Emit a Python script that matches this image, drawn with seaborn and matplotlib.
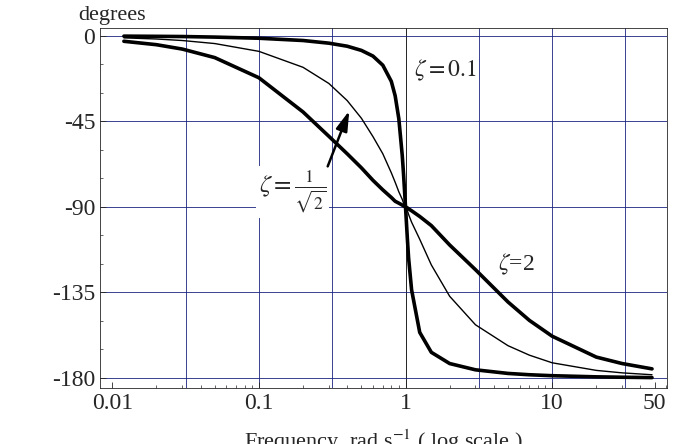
import numpy as np
import matplotlib
matplotlib.use('Agg')
import matplotlib.pyplot as plt
import seaborn as sns
import pandas as pd
from matplotlib.ticker import FixedLocator, NullFormatter

# values (phase in degrees)
freq = [0.012, 0.02, 0.03, 0.05, 0.1, 0.2, 0.3, 0.4, 0.5, 0.6, 0.7, 0.8, 0.85, 0.9, 0.95, 0.97, 1.0,
        1.03, 1.05, 1.1, 1.25, 1.5, 2, 3, 5, 7, 10, 20, 30, 48]
phase_z01 = [-0.1, -0.2, -0.3, -0.6, -1.2, -2.4, -3.8, -5.4, -7.6, -10.6, -15.4, -23.9, -31.5, -43.5, -62.9, -73, -90,
             -107, -117, -133.6, -156, -166.5, -172.4, -175.7, -177.6, -178.3, -178.8, -179.4, -179.6, -179.8]
phase_z07 = [-1, -1.6, -2.4, -4, -8.1, -16.5, -25, -34, -43.3, -53, -62, -72, -77, -82, -86, -88, -90,
             -92, -94, -98, -107, -120.5, -137, -152, -163, -168, -172, -176, -177.3, -178.3]
phase_z2 = [-2.8, -4.6, -6.9, -11.4, -22, -40, -52.8, -62, -69.4, -76, -81, -85, -87, -88, -89, -89.5, -90,
            -90.5, -91, -92, -95, -99.8, -110, -123, -140, -149.7, -158, -169, -172.4, -175.2]

sns.set_style('ticks')
plt.rcParams['font.family'] = ['Liberation Serif', 'DejaVu Serif']
plt.rcParams['mathtext.fontset'] = 'stix'

fig = plt.figure(figsize=(6.81, 4.44), dpi=100)
ax = fig.add_axes([0.147, 0.126, 0.833, 0.811])

df = pd.DataFrame({'freq': freq, 'z01': phase_z01, 'z07': phase_z07, 'z2': phase_z2})
sns.lineplot(data=df, x='freq', y='z01', color='black', lw=2.6, ax=ax)
sns.lineplot(data=df, x='freq', y='z07', color='black', lw=1.0, ax=ax)
sns.lineplot(data=df, x='freq', y='z2', color='black', lw=2.6, ax=ax)

ax.set_xscale('log')
ax.set_xlim(10 ** -2.083, 10 ** 1.786)
ax.set_ylim(-185.3, 4.2)

for e in (-1.5, -1, -0.5, 0, 0.5, 1, 1.5):
    ax.axvline(10 ** e, color='black' if e == 0 else '#1a237e', lw=0.6, zorder=0)
for gy in [0, -45, -90, -135, -180]:
    ax.axhline(gy, color='#1a237e', lw=0.6, zorder=0)

ax.set_xticks([0.01, 0.1, 1, 10, 50])
ax.set_xticklabels(['0.01', '0.1', '1', '10', '50'], fontsize=17)
ax.xaxis.set_minor_locator(FixedLocator([m * 10 ** e for e in range(-2, 2) for m in range(2, 10)]))
ax.xaxis.set_minor_formatter(NullFormatter())
ax.set_yticks([0, -45, -90, -135, -180])
ax.set_yticklabels(['0', '-45', '-90', '-135', '-180'], fontsize=17)
ax.set_yticks(np.arange(-180, 1, 15), minor=True)
ax.tick_params(direction='in', length=4, width=0.6)
ax.tick_params(which='minor', direction='in', length=2, width=0.5)
ax.set_xlabel(r'Frequency, rad s$^{-1}$ ( log scale )', fontsize=16, labelpad=10)
ax.set_ylabel('')
for s in ax.spines.values():
    s.set_linewidth(0.6)

fig.text(0.115, 0.965, 'degrees', fontsize=16, ha='left', va='center')
ax.text(1.15, -18, r'$\zeta = 0.1$', fontsize=17, ha='left', va='center',
        bbox=dict(fc='white', ec='none', pad=1))
ax.text(4.3, -120, r'$\zeta$=2', fontsize=17, ha='left', va='center')
ax.text(0.17, -82, r'$\zeta = \frac{1}{\sqrt{2}}$', fontsize=18, ha='center', va='center',
        bbox=dict(fc='white', ec='none', pad=2))
ax.annotate('', xy=(0.42, -38), xytext=(0.29, -70),
            arrowprops=dict(arrowstyle='-|>,head_width=0.35,head_length=1.2',
                            color='black', lw=1.8))

fig.savefig('out.png', dpi=100)
